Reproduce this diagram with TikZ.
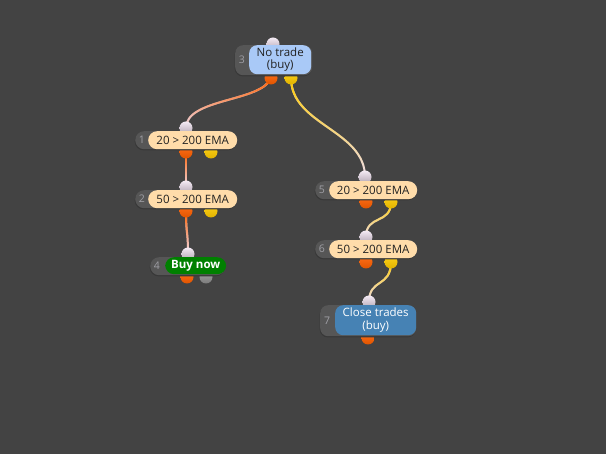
\documentclass[tikz,border=0pt]{standalone}
\usepackage{fontspec}
\setmainfont{Open Sans}
\usetikzlibrary{fadings}
\definecolor{bg}{HTML}{434343}
\definecolor{gbox}{HTML}{565656}
\definecolor{gshadow}{HTML}{383838}
\definecolor{numc}{HTML}{A0A0A6}
\definecolor{cream}{HTML}{FFDCAA}
\definecolor{lblue}{HTML}{A9C9F7}
\definecolor{dblue}{HTML}{4682B4}
\definecolor{dgreen}{HTML}{008000}
\definecolor{porange}{HTML}{FF6000}
\definecolor{pyellow}{HTML}{FFCC00}
\definecolor{ppale}{HTML}{EEDDEE}
\definecolor{pgrey}{HTML}{9A9A9A}
\definecolor{txt}{HTML}{222222}
\tikzset{
  greybox/.style={fill=gbox, rounded corners=9pt, anchor=north west, inner sep=0pt,
    preaction={fill=gshadow, transform canvas={xshift=-0.5pt, yshift=-1.2pt}}},
  colbox/.style={rounded corners=9pt, anchor=north west, inner sep=0pt, align=center, font=\fontsize{11.5}{12.5}\selectfont},
  numlab/.style={text=numc, font=\fontsize{10.5}{10.5}\selectfont, inner sep=0pt},
  inport/.style={circle, inner sep=0pt, minimum size=13pt, top color=ppale!60!white, bottom color=ppale!75!black},
  oport/.style={circle, inner sep=0pt, minimum size=13pt, top color=porange!90!white, bottom color=porange!88!black},
  yport/.style={circle, inner sep=0pt, minimum size=13pt, top color=pyellow!90!white, bottom color=pyellow!88!black},
  gport/.style={circle, inner sep=0pt, minimum size=13pt, top color=pgrey!90!white, bottom color=pgrey!80!black},
  wire/.style={line width=2pt},
}
\newcommand{\grad}[3]{%
  \draw[wire, ppale] #1;
  \draw[wire, #2, path fading=#3] #1;
}
\begin{document}
\begin{tikzpicture}[x=1pt, y=-1pt]
\useasboundingbox[fill=bg] (0,0) rectangle (606,454);

% connectors
\coordinate (c3o) at (271,78);
\coordinate (c3y) at (291,78);
\coordinate (c1t) at (186,128);
\coordinate (c1o) at (186,152);
\coordinate (c2t) at (186,187);
\coordinate (c2o) at (186,211);
\coordinate (c4t) at (188,254);
\coordinate (c5t) at (365,177);
\coordinate (c5y) at (391,202);
\coordinate (c6t) at (366,237);
\coordinate (c6y) at (391,262);
\coordinate (c7t) at (369,302);

\grad{(c3o) .. controls (262,102) and (186,98) .. (c1t)}{porange}{south}
\grad{(c3y) .. controls (291,125) and (365,130) .. (c5t)}{pyellow}{south}
\grad{(c1o) -- (c2t)}{porange}{south}
\grad{(c2o) .. controls (186,235) and (188,230) .. (c4t)}{porange}{south}
\grad{(c5y) .. controls (391,225) and (366,214) .. (c6t)}{pyellow}{south}
\grad{(c6y) .. controls (391,288) and (369,278) .. (c7t)}{pyellow}{south}

% ports
\node[inport] (p3t) at (273,44) {};
\node[oport] (p3o) at (c3o) {};
\node[yport] (p3y) at (c3y) {};
\node[inport] (p1t) at (c1t) {};
\node[oport] (p1o) at (c1o) {};
\node[yport] (p1y) at (211,152) {};
\node[inport] (p2t) at (c2t) {};
\node[oport] (p2o) at (c2o) {};
\node[yport] (p2y) at (211,211) {};
\node[inport] (p4t) at (c4t) {};
\node[oport] (p4o) at (187,277) {};
\node[gport] (p4g) at (206,277) {};
\node[inport] (p5t) at (c5t) {};
\node[oport] (p5o) at (366,202) {};
\node[yport] (p5y) at (c5y) {};
\node[inport] (p6t) at (c6t) {};
\node[oport] (p6o) at (366,262) {};
\node[yport] (p6y) at (c6y) {};
\node[inport] (p7t) at (c7t) {};
\node[oport] (p7o) at (368,338) {};

% node 3
\node[greybox, rounded corners=8pt, minimum width=77pt, minimum height=30pt] (g3) at (235,45) {};
\node[colbox, rounded corners=8pt, fill=lblue, text=txt, minimum width=62pt, minimum height=29pt] (n3) at (249,45) {No trade\\(buy)};
\node[numlab] (l3) at (242,60) {3};
% node 1
\node[greybox, minimum width=102pt, minimum height=18pt] (g1) at (135,131) {};
\node[colbox, fill=cream, text=txt, minimum width=89pt, minimum height=18pt] (n1) at (148,131) {20 > 200 EMA};
\node[numlab] (l1) at (142,140) {1};
% node 2
\node[greybox, minimum width=102pt, minimum height=18pt] (g2) at (135,190) {};
\node[colbox, fill=cream, text=txt, minimum width=89pt, minimum height=18pt] (n2) at (148,190) {50 > 200 EMA};
\node[numlab] (l2) at (142,199) {2};
% node 4
\node[greybox, minimum width=75pt, minimum height=18pt] (g4) at (150,257) {};
\node[colbox, fill=dgreen, text=white, font=\fontsize{11.5}{12.5}\selectfont\bfseries, minimum width=61pt, minimum height=17pt] (n4) at (165,257) {Buy now};
\node[numlab] (l4) at (157,266) {4};
% node 5
\node[greybox, minimum width=102pt, minimum height=18pt] (g5) at (315,181) {};
\node[colbox, fill=cream, text=txt, minimum width=88pt, minimum height=18pt] (n5) at (329,181) {20 > 200 EMA};
\node[numlab] (l5) at (322,190) {5};
% node 6
\node[greybox, minimum width=102pt, minimum height=18pt] (g6) at (315,240) {};
\node[colbox, fill=cream, text=txt, minimum width=88pt, minimum height=18pt] (n6) at (329,240) {50 > 200 EMA};
\node[numlab] (l6) at (322,249) {6};
% node 7
\node[greybox, rounded corners=8pt, minimum width=96pt, minimum height=31pt] (g7) at (320,305) {};
\node[colbox, rounded corners=8pt, fill=dblue, text=white, minimum width=81pt, minimum height=30pt] (n7) at (335,305) {Close trades\\(buy)};
\node[numlab] (l7) at (327,321) {7};
\end{tikzpicture}
\end{document}
